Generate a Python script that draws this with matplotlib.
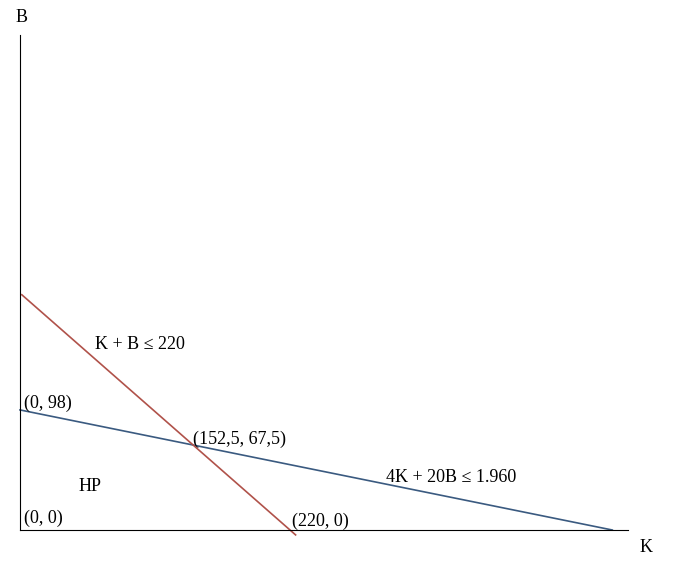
import matplotlib.pyplot as plt

plt.rcParams['font.family'] = ['Liberation Serif', 'DejaVu Sans']

# constraint lines
blue_k = [0, 490]
blue_b = [98, 0]
red_k = [1.5, 228]
red_b = [192, -4]

x_max = 503
y_max = 404

fig = plt.figure(figsize=(6.98, 5.62), dpi=100)
ax = fig.add_axes([20 / 698, 32 / 562, 608 / 698, 495 / 562])
ax.set_xlim(0, x_max)
ax.set_ylim(0, y_max)
ax.spines['top'].set_visible(False)
ax.spines['right'].set_visible(False)
ax.set_xticks([])
ax.set_yticks([])

ax.plot(blue_k, blue_b, color='#3a5a80', lw=1.2, clip_on=False)
ax.plot(red_k, red_b, color='#b0524a', lw=1.2, clip_on=False)

fs = 13
ax.text(62, 148, 'K + B ≤ 220', fontsize=fs)
ax.text(3, 100, '(0, 98)', fontsize=fs)
ax.text(143, 70, '(152,5, 67,5)', fontsize=fs)
ax.text(303, 39, '4K + 20B ≤ 1.960', fontsize=fs)
ax.text(48, 32, 'HP', fontsize=fs)
ax.text(3, 6, '(0, 0)', fontsize=fs)
ax.text(225, 3, '(220, 0)', fontsize=fs)
fig.text(16 / 698, 1 - 18 / 562, 'B', fontsize=fs, va='center')
fig.text(640 / 698, 1 - 548 / 562, 'K', fontsize=fs, va='center')

fig.savefig('out.png', dpi=100)
